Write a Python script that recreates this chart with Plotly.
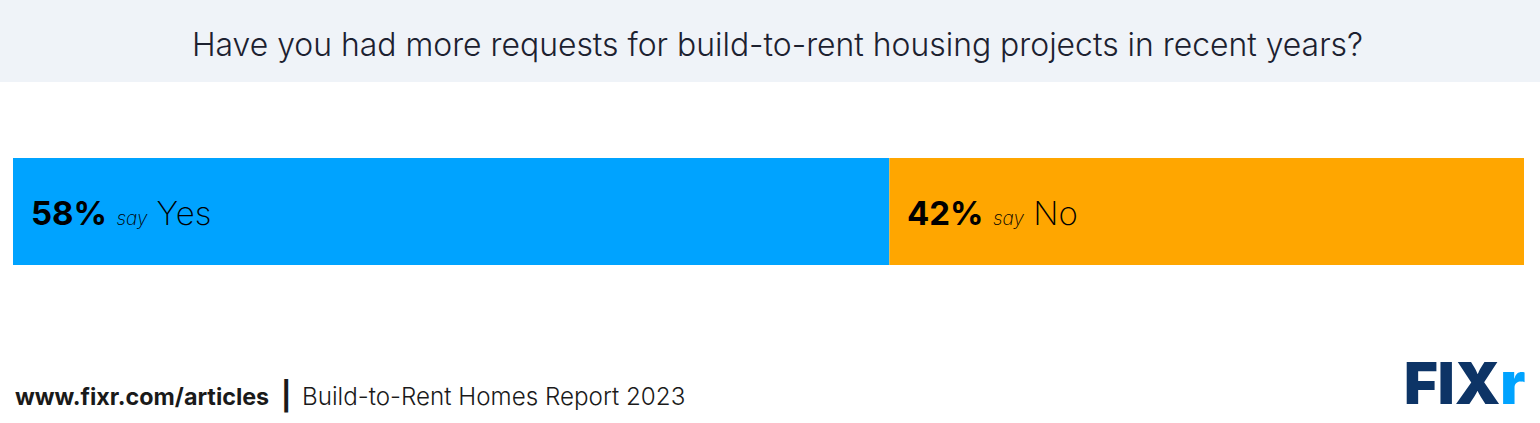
import plotly.graph_objects as go

answers = ["Yes", "No"]
shares = [58, 42]
colors = ["#00a3ff", "#ffa600"]
title = "Have you had more requests for build-to-rent housing projects in recent years?"
source = "www.fixr.com/articles"
report = "Build-to-Rent Homes Report 2023"

W, H = 1540, 423
PW = W - 29
fig = go.Figure()
base = 0
for a, s, c in zip(answers, shares, colors):
    fig.add_trace(go.Bar(
        x=[s], y=[0], base=[base], orientation="h", width=1,
        marker=dict(color=c, line=dict(width=0)),
        hoverinfo="skip", showlegend=False,
    ))
    fig.add_annotation(
        x=base, y=0, xref="x", yref="y", xanchor="left", yanchor="middle",
        xshift=16, yshift=-1, showarrow=False,
        text=f"<b>{s}%</b> <i><span style='font-size:19px'>say</span></i> {a}",
        font=dict(family="Inter", size=33, color="#000000", weight=200),
    )
    base += s

fig.update_layout(
    width=W, height=H,
    margin=dict(l=13, r=16, t=0, b=0),
    paper_bgcolor="white", plot_bgcolor="white",
    barmode="overlay",
    xaxis=dict(range=[0, 100], visible=False, fixedrange=True),
    yaxis=dict(range=[-0.5, 0.5], visible=False, domain=[1 - 265 / H, 1 - 158 / H]),
    font=dict(family="Inter"),
)

def px(x):
    return (x - 13) / PW

def py(y):
    return 1 - y / H

# header band
fig.add_shape(type="rect", xref="paper", yref="paper", x0=px(0), x1=px(W),
              y0=py(82), y1=1, fillcolor="#eff3f8", line=dict(width=0), layer="below")
fig.add_annotation(x=px(777), y=py(44), xref="paper", yref="paper", showarrow=False,
                   xanchor="center", yanchor="middle", text=title,
                   font=dict(family="Inter", size=31.9, color="#1c2130", weight=300))

# footer
fig.add_annotation(x=px(13), y=py(396), xref="paper", yref="paper", showarrow=False,
                   xanchor="left", yanchor="middle",
                   text=f"<b>{source}</b>",
                   font=dict(family="Inter", size=23.3, color="#1a1a1a"))
fig.add_annotation(x=px(279), y=py(396), xref="paper", yref="paper", showarrow=False,
                   xanchor="left", yanchor="middle", text="<b>|</b>",
                   font=dict(family="Inter", size=28, color="#1a1a1a"))
fig.add_annotation(x=px(300), y=py(396), xref="paper", yref="paper", showarrow=False,
                   xanchor="left", yanchor="middle", text=report,
                   font=dict(family="Inter", size=24.2, color="#1a1a1a", weight=300))

# logo
fig.add_annotation(x=px(1528), y=py(383), xref="paper", yref="paper", showarrow=False,
                   xanchor="right", yanchor="middle",
                   text="<span style='color:#0d3466'>FIX</span><span style='color:#00a3ff'>r</span>",
                   font=dict(family="Inter", size=58, weight=900))

fig.write_html("out.html")
